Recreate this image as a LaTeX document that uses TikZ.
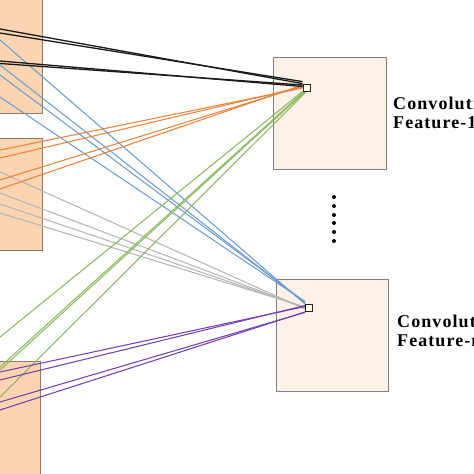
\documentclass[tikz,border=0pt]{standalone}
\usepackage{fontspec}
\setmainfont{Liberation Serif}
\definecolor{infill}{HTML}{FBD4B2}
\definecolor{inedge}{HTML}{8C7A6A}
\definecolor{fmfill}{HTML}{FDF2E7}
\definecolor{fmedge}{HTML}{808080}
\definecolor{cblack}{HTML}{1A1A1A}
\definecolor{corange}{HTML}{E8823A}
\definecolor{cblue}{HTML}{6C9DCF}
\definecolor{cgray}{HTML}{B5B5B5}
\definecolor{cgreen}{HTML}{8CB860}
\definecolor{cpurple}{HTML}{7440AE}
\begin{document}
\begin{tikzpicture}[x=1pt,y=-1pt,
  inbox/.style={draw=inedge, fill=infill, line width=0.9pt, inner sep=0pt},
  fmbox/.style={draw=fmedge, fill=fmfill, line width=0.9pt, inner sep=0pt},
  cell/.style={draw=black!85, fill=white!90!yellow, minimum size=7pt, inner sep=0pt, line width=0.8pt},
  conn/.style={line width=1.05pt},
  vdot/.style={circle, fill=black, minimum size=4pt, inner sep=0pt},
  lbl/.style={font=\bfseries\fontsize{18}{19}\selectfont\addfontfeature{LetterSpace=6}, align=left, inner sep=0pt, anchor=north west}]
\useasboundingbox (0,0) rectangle (474,474);
\clip (0,0) rectangle (474,474);
% input blocks
\node[inbox, minimum width=72pt, minimum height=123pt] (in1) at (6,51.5) {};
\node[inbox, minimum width=72pt, minimum height=112pt] (in2) at (6,194) {};
\node[inbox, minimum width=70pt, minimum height=124pt] (in3) at (5,423) {};
% feature maps
\node[fmbox, minimum width=113pt, minimum height=112pt] (fm1) at (329.5,113) {};
\node[fmbox, minimum width=112pt, minimum height=112pt] (fmn) at (332,335) {};
% cells
\node[cell] (sq1) at (306.5,87.5) {};
\node[cell] (sqn) at (309,308) {};
% start coordinates
\coordinate (k1) at (0,29);  \coordinate (k2) at (0,33);
\coordinate (k3) at (0,61);  \coordinate (k4) at (0,63.5);
\coordinate (o1) at (0,150); \coordinate (o2) at (0,158);
\coordinate (o3) at (0,180); \coordinate (o4) at (0,189);
\coordinate (b1) at (0,40);  \coordinate (b2) at (0,65);
\coordinate (b3) at (0,75);  \coordinate (b4) at (0,97);
\coordinate (g1) at (0,172); \coordinate (g2) at (0,193);
\coordinate (g3) at (0,204); \coordinate (g4) at (0,213);
\coordinate (e1) at (0,337); \coordinate (e2) at (0,367);
\coordinate (e3) at (0,370); \coordinate (e4) at (0,397);
\coordinate (p1) at (0,372); \coordinate (p2) at (0,380);
\coordinate (p3) at (0,402); \coordinate (p4) at (0,410);
% connectors
\begin{scope}[conn]
\draw[cblue] (b1) -- (sqn.north west);
\draw[cblue] (b2) -- ([yshift=1pt]sqn.north west);
\draw[cblue] (b3) -- ([yshift=2pt]sqn.north west);
\draw[cblue] (b4) -- ([yshift=2.5pt]sqn.north west);
\draw[cgray] (g1) -- ([yshift=-1pt]sqn.west);
\draw[cgray] (g2) -- (sqn.west);
\draw[cgray] (g3) -- ([yshift=0.5pt]sqn.west);
\draw[cgray] (g4) -- ([yshift=1pt]sqn.west);
\draw[cgreen] (e1) -- (sq1.south west);
\draw[cgreen] (e2) -- ([xshift=1.5pt]sq1.south west);
\draw[cgreen] (e3) -- ([xshift=2.5pt]sq1.south west);
\draw[cgreen] (e4) -- (sq1.south);
\draw[corange] (o1) -- ([yshift=-0.5pt]sq1.west);
\draw[corange] (o2) -- ([yshift=0.5pt]sq1.west);
\draw[corange] (o3) -- ([yshift=1.5pt]sq1.west);
\draw[corange] (o4) -- ([yshift=2.5pt]sq1.west);
\draw[cpurple] (p1) -- ([yshift=1.5pt]sqn.west);
\draw[cpurple] (p2) -- ([yshift=2.5pt]sqn.west);
\draw[cpurple] (p3) -- ([yshift=-0.5pt]sqn.south west);
\draw[cpurple] (p4) -- (sqn.south west);
\draw[cblack, line width=1.3pt] (k1) -- (sq1.north west);
\draw[cblack, line width=1.3pt] (k2) -- ([yshift=2pt]sq1.north west);
\draw[cblack, line width=1.3pt] (k3) -- ([yshift=1pt]sq1.west);
\draw[cblack, line width=1.3pt] (k4) -- ([yshift=2.5pt]sq1.west);
\end{scope}
% redraw cells on top
\node[cell] at (sq1) {};
\node[cell] at (sqn) {};
% dots
\foreach \yy [count=\i] in {197,206,215,223,232,241}
  \node[vdot] (d\i) at (334,\yy) {};
% labels
\node[lbl] (lab1) at (393,96.5) {Convolution\\Feature-1};
\node[lbl] (labn) at (397,315) {Convolution\\Feature-n};
\end{tikzpicture}
\end{document}
